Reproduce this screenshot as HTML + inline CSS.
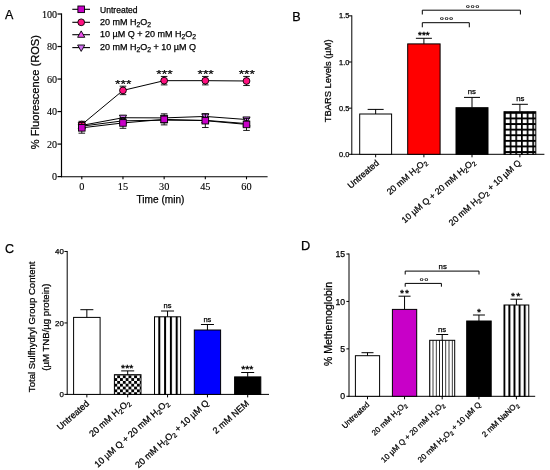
<!DOCTYPE html>
<html><head><meta charset="utf-8"><title>Figure</title>
<style>html,body{margin:0;padding:0;background:#fff}svg{display:block}text{fill:#000;stroke:#000;stroke-width:0.25px}</style>
</head><body>
<svg width="550" height="470" viewBox="0 0 550 470">
<defs>
<pattern id="grid" x="504.05" y="111.9" width="5.66" height="5.6" patternUnits="userSpaceOnUse"><rect width="5.66" height="5.6" fill="#fff"/><rect width="5.66" height="1.9" fill="#000"/><rect width="1.7" height="5.6" fill="#000"/></pattern>
<pattern id="chk" x="111.56" y="369.66" width="5.64" height="5.64" patternUnits="userSpaceOnUse"><rect width="5.64" height="5.64" fill="#fff"/><rect width="2.9" height="2.9" fill="#000"/><rect x="2.82" y="2.82" width="2.9" height="2.9" fill="#000"/></pattern>
<pattern id="vs" x="152.5" y="0" width="5.8" height="10" patternUnits="userSpaceOnUse"><rect width="5.8" height="10" fill="#fff"/><rect width="2.0" height="10" fill="#000"/></pattern>
<pattern id="fine" x="429.4" y="0" width="3.2" height="10" patternUnits="userSpaceOnUse"><rect width="3.2" height="10" fill="#fff"/><rect width="0.8" height="10" fill="#000"/></pattern>
<pattern id="bold" x="503.3" y="0" width="5.1" height="10" patternUnits="userSpaceOnUse"><rect width="5.1" height="10" fill="#fff"/><rect width="2" height="10" fill="#000"/></pattern>
</defs>
<rect width="550" height="470" fill="#fff"/>

<text x="5.00" y="19.40" font-size="12.5" text-anchor="start" font-family="Liberation Sans, Arial, sans-serif" >A</text>
<line x1="61.50" y1="13.40" x2="61.50" y2="177.20" stroke="#000" stroke-width="1.2" />
<line x1="60.90" y1="176.70" x2="267.60" y2="176.70" stroke="#000" stroke-width="1.1" />
<line x1="57.50" y1="176.60" x2="61.50" y2="176.60" stroke="#000" stroke-width="1.2" />
<text x="57.10" y="180.20" font-size="10.1" text-anchor="end" font-family="Liberation Serif, Times New Roman, serif" style="stroke-width:0.12px" >0</text>
<line x1="57.50" y1="144.08" x2="61.50" y2="144.08" stroke="#000" stroke-width="1.2" />
<text x="57.10" y="147.68" font-size="10.1" text-anchor="end" font-family="Liberation Serif, Times New Roman, serif" style="stroke-width:0.12px" >20</text>
<line x1="57.50" y1="111.56" x2="61.50" y2="111.56" stroke="#000" stroke-width="1.2" />
<text x="57.10" y="115.16" font-size="10.1" text-anchor="end" font-family="Liberation Serif, Times New Roman, serif" style="stroke-width:0.12px" >40</text>
<line x1="57.50" y1="79.04" x2="61.50" y2="79.04" stroke="#000" stroke-width="1.2" />
<text x="57.10" y="82.64" font-size="10.1" text-anchor="end" font-family="Liberation Serif, Times New Roman, serif" style="stroke-width:0.12px" >60</text>
<line x1="57.50" y1="46.52" x2="61.50" y2="46.52" stroke="#000" stroke-width="1.2" />
<text x="57.10" y="50.12" font-size="10.1" text-anchor="end" font-family="Liberation Serif, Times New Roman, serif" style="stroke-width:0.12px" >80</text>
<line x1="57.50" y1="14.00" x2="61.50" y2="14.00" stroke="#000" stroke-width="1.2" />
<text x="57.10" y="17.60" font-size="10.1" text-anchor="end" font-family="Liberation Serif, Times New Roman, serif" style="stroke-width:0.12px" >100</text>
<line x1="81.80" y1="176.60" x2="81.80" y2="179.30" stroke="#000" stroke-width="1.1" />
<text x="81.80" y="189.50" font-size="10.3" text-anchor="middle" font-family="Liberation Serif, Times New Roman, serif" style="stroke-width:0.12px" >0</text>
<line x1="122.97" y1="176.60" x2="122.97" y2="179.30" stroke="#000" stroke-width="1.1" />
<text x="122.97" y="189.50" font-size="10.3" text-anchor="middle" font-family="Liberation Serif, Times New Roman, serif" style="stroke-width:0.12px" >15</text>
<line x1="164.15" y1="176.60" x2="164.15" y2="179.30" stroke="#000" stroke-width="1.1" />
<text x="164.15" y="189.50" font-size="10.3" text-anchor="middle" font-family="Liberation Serif, Times New Roman, serif" style="stroke-width:0.12px" >30</text>
<line x1="205.32" y1="176.60" x2="205.32" y2="179.30" stroke="#000" stroke-width="1.1" />
<text x="205.32" y="189.50" font-size="10.3" text-anchor="middle" font-family="Liberation Serif, Times New Roman, serif" style="stroke-width:0.12px" >45</text>
<line x1="246.50" y1="176.60" x2="246.50" y2="179.30" stroke="#000" stroke-width="1.1" />
<text x="246.50" y="189.50" font-size="10.3" text-anchor="middle" font-family="Liberation Serif, Times New Roman, serif" style="stroke-width:0.12px" >60</text>
<text x="160.50" y="203.10" font-size="10.1" text-anchor="middle" font-family="Liberation Sans, Arial, sans-serif" >Time (min)</text>
<text transform="translate(39.20,92.10) rotate(-90)" font-size="11.1" text-anchor="middle" font-family="Liberation Sans, Arial, sans-serif" >% Fluorescence (ROS)</text>
<polyline points="81.80,125.38 122.97,117.74 164.15,117.90 205.32,116.44 246.50,119.53" fill="none" stroke="#000" stroke-width="1.0"/>
<line x1="81.80" y1="123.43" x2="81.80" y2="127.33" stroke="#000" stroke-width="0.9" />
<line x1="78.50" y1="123.43" x2="85.10" y2="123.43" stroke="#000" stroke-width="0.9" />
<line x1="78.50" y1="127.33" x2="85.10" y2="127.33" stroke="#000" stroke-width="0.9" />
<line x1="122.97" y1="115.79" x2="122.97" y2="119.69" stroke="#000" stroke-width="0.9" />
<line x1="119.67" y1="115.79" x2="126.27" y2="115.79" stroke="#000" stroke-width="0.9" />
<line x1="119.67" y1="119.69" x2="126.27" y2="119.69" stroke="#000" stroke-width="0.9" />
<line x1="164.15" y1="115.95" x2="164.15" y2="119.85" stroke="#000" stroke-width="0.9" />
<line x1="160.85" y1="115.95" x2="167.45" y2="115.95" stroke="#000" stroke-width="0.9" />
<line x1="160.85" y1="119.85" x2="167.45" y2="119.85" stroke="#000" stroke-width="0.9" />
<line x1="205.32" y1="114.49" x2="205.32" y2="118.39" stroke="#000" stroke-width="0.9" />
<line x1="202.02" y1="114.49" x2="208.62" y2="114.49" stroke="#000" stroke-width="0.9" />
<line x1="202.02" y1="118.39" x2="208.62" y2="118.39" stroke="#000" stroke-width="0.9" />
<line x1="246.50" y1="117.58" x2="246.50" y2="121.48" stroke="#000" stroke-width="0.9" />
<line x1="243.20" y1="117.58" x2="249.80" y2="117.58" stroke="#000" stroke-width="0.9" />
<line x1="243.20" y1="121.48" x2="249.80" y2="121.48" stroke="#000" stroke-width="0.9" />
<polygon points="81.80,129.18 85.40,122.78 78.20,122.78" fill="#d070f0" stroke="#000" stroke-width="0.9"/>
<polygon points="122.97,121.54 126.57,115.14 119.38,115.14" fill="#d070f0" stroke="#000" stroke-width="0.9"/>
<polygon points="164.15,121.70 167.75,115.30 160.55,115.30" fill="#d070f0" stroke="#000" stroke-width="0.9"/>
<polygon points="205.32,120.24 208.92,113.84 201.72,113.84" fill="#d070f0" stroke="#000" stroke-width="0.9"/>
<polygon points="246.50,123.33 250.10,116.93 242.90,116.93" fill="#d070f0" stroke="#000" stroke-width="0.9"/>
<polyline points="81.80,126.19 122.97,120.83 164.15,120.18 205.32,120.34 246.50,123.59" fill="none" stroke="#000" stroke-width="1.0"/>
<line x1="81.80" y1="123.75" x2="81.80" y2="128.63" stroke="#000" stroke-width="0.9" />
<line x1="78.50" y1="123.75" x2="85.10" y2="123.75" stroke="#000" stroke-width="0.9" />
<line x1="78.50" y1="128.63" x2="85.10" y2="128.63" stroke="#000" stroke-width="0.9" />
<line x1="122.97" y1="118.39" x2="122.97" y2="123.27" stroke="#000" stroke-width="0.9" />
<line x1="119.67" y1="118.39" x2="126.27" y2="118.39" stroke="#000" stroke-width="0.9" />
<line x1="119.67" y1="123.27" x2="126.27" y2="123.27" stroke="#000" stroke-width="0.9" />
<line x1="164.15" y1="117.74" x2="164.15" y2="122.62" stroke="#000" stroke-width="0.9" />
<line x1="160.85" y1="117.74" x2="167.45" y2="117.74" stroke="#000" stroke-width="0.9" />
<line x1="160.85" y1="122.62" x2="167.45" y2="122.62" stroke="#000" stroke-width="0.9" />
<line x1="205.32" y1="117.90" x2="205.32" y2="122.78" stroke="#000" stroke-width="0.9" />
<line x1="202.02" y1="117.90" x2="208.62" y2="117.90" stroke="#000" stroke-width="0.9" />
<line x1="202.02" y1="122.78" x2="208.62" y2="122.78" stroke="#000" stroke-width="0.9" />
<line x1="246.50" y1="121.15" x2="246.50" y2="126.03" stroke="#000" stroke-width="0.9" />
<line x1="243.20" y1="121.15" x2="249.80" y2="121.15" stroke="#000" stroke-width="0.9" />
<line x1="243.20" y1="126.03" x2="249.80" y2="126.03" stroke="#000" stroke-width="0.9" />
<polygon points="81.80,122.39 85.40,128.79 78.20,128.79" fill="#f050f0" stroke="#000" stroke-width="0.9"/>
<polygon points="122.97,117.03 126.57,123.43 119.38,123.43" fill="#f050f0" stroke="#000" stroke-width="0.9"/>
<polygon points="164.15,116.38 167.75,122.78 160.55,122.78" fill="#f050f0" stroke="#000" stroke-width="0.9"/>
<polygon points="205.32,116.54 208.92,122.94 201.72,122.94" fill="#f050f0" stroke="#000" stroke-width="0.9"/>
<polygon points="246.50,119.79 250.10,126.19 242.90,126.19" fill="#f050f0" stroke="#000" stroke-width="0.9"/>
<polyline points="81.80,124.57 122.97,90.42 164.15,80.67 205.32,80.67 246.50,80.99" fill="none" stroke="#000" stroke-width="1.0"/>
<line x1="81.80" y1="121.32" x2="81.80" y2="127.82" stroke="#000" stroke-width="0.9" />
<line x1="78.50" y1="121.32" x2="85.10" y2="121.32" stroke="#000" stroke-width="0.9" />
<line x1="78.50" y1="127.82" x2="85.10" y2="127.82" stroke="#000" stroke-width="0.9" />
<line x1="122.97" y1="86.19" x2="122.97" y2="94.65" stroke="#000" stroke-width="0.9" />
<line x1="119.67" y1="86.19" x2="126.27" y2="86.19" stroke="#000" stroke-width="0.9" />
<line x1="119.67" y1="94.65" x2="126.27" y2="94.65" stroke="#000" stroke-width="0.9" />
<line x1="164.15" y1="76.44" x2="164.15" y2="84.89" stroke="#000" stroke-width="0.9" />
<line x1="160.85" y1="76.44" x2="167.45" y2="76.44" stroke="#000" stroke-width="0.9" />
<line x1="160.85" y1="84.89" x2="167.45" y2="84.89" stroke="#000" stroke-width="0.9" />
<line x1="205.32" y1="76.44" x2="205.32" y2="84.89" stroke="#000" stroke-width="0.9" />
<line x1="202.02" y1="76.44" x2="208.62" y2="76.44" stroke="#000" stroke-width="0.9" />
<line x1="202.02" y1="84.89" x2="208.62" y2="84.89" stroke="#000" stroke-width="0.9" />
<line x1="246.50" y1="76.44" x2="246.50" y2="85.54" stroke="#000" stroke-width="0.9" />
<line x1="243.20" y1="76.44" x2="249.80" y2="76.44" stroke="#000" stroke-width="0.9" />
<line x1="243.20" y1="85.54" x2="249.80" y2="85.54" stroke="#000" stroke-width="0.9" />
<circle cx="81.80" cy="124.57" r="3.4" fill="#ff1080" stroke="#000" stroke-width="0.9"/>
<circle cx="122.97" cy="90.42" r="3.4" fill="#ff1080" stroke="#000" stroke-width="0.9"/>
<circle cx="164.15" cy="80.67" r="3.4" fill="#ff1080" stroke="#000" stroke-width="0.9"/>
<circle cx="205.32" cy="80.67" r="3.4" fill="#ff1080" stroke="#000" stroke-width="0.9"/>
<circle cx="246.50" cy="80.99" r="3.4" fill="#ff1080" stroke="#000" stroke-width="0.9"/>
<polyline points="81.80,127.82 122.97,122.94 164.15,119.36 205.32,120.67 246.50,124.41" fill="none" stroke="#000" stroke-width="1.0"/>
<line x1="81.80" y1="122.45" x2="81.80" y2="133.19" stroke="#000" stroke-width="0.9" />
<line x1="78.50" y1="122.45" x2="85.10" y2="122.45" stroke="#000" stroke-width="0.9" />
<line x1="78.50" y1="133.19" x2="85.10" y2="133.19" stroke="#000" stroke-width="0.9" />
<line x1="122.97" y1="117.58" x2="122.97" y2="128.31" stroke="#000" stroke-width="0.9" />
<line x1="119.67" y1="117.58" x2="126.27" y2="117.58" stroke="#000" stroke-width="0.9" />
<line x1="119.67" y1="128.31" x2="126.27" y2="128.31" stroke="#000" stroke-width="0.9" />
<line x1="164.15" y1="113.84" x2="164.15" y2="124.89" stroke="#000" stroke-width="0.9" />
<line x1="160.85" y1="113.84" x2="167.45" y2="113.84" stroke="#000" stroke-width="0.9" />
<line x1="160.85" y1="124.89" x2="167.45" y2="124.89" stroke="#000" stroke-width="0.9" />
<line x1="205.32" y1="113.84" x2="205.32" y2="127.49" stroke="#000" stroke-width="0.9" />
<line x1="202.02" y1="113.84" x2="208.62" y2="113.84" stroke="#000" stroke-width="0.9" />
<line x1="202.02" y1="127.49" x2="208.62" y2="127.49" stroke="#000" stroke-width="0.9" />
<line x1="246.50" y1="118.39" x2="246.50" y2="130.42" stroke="#000" stroke-width="0.9" />
<line x1="243.20" y1="118.39" x2="249.80" y2="118.39" stroke="#000" stroke-width="0.9" />
<line x1="243.20" y1="130.42" x2="249.80" y2="130.42" stroke="#000" stroke-width="0.9" />
<rect x="78.50" y="124.52" width="6.6" height="6.6" fill="#c800c8" stroke="#000" stroke-width="0.9"/>
<rect x="119.67" y="119.64" width="6.6" height="6.6" fill="#c800c8" stroke="#000" stroke-width="0.9"/>
<rect x="160.85" y="116.06" width="6.6" height="6.6" fill="#c800c8" stroke="#000" stroke-width="0.9"/>
<rect x="202.02" y="117.37" width="6.6" height="6.6" fill="#c800c8" stroke="#000" stroke-width="0.9"/>
<rect x="243.20" y="121.11" width="6.6" height="6.6" fill="#c800c8" stroke="#000" stroke-width="0.9"/>
<text transform="translate(123.27,87.67) scale(1,0.8)" font-size="14" text-anchor="middle" font-family="Liberation Sans, Arial, sans-serif" style="stroke-width:0.25px;letter-spacing:0px">***</text>
<text transform="translate(164.45,78.37) scale(1,0.8)" font-size="14" text-anchor="middle" font-family="Liberation Sans, Arial, sans-serif" style="stroke-width:0.25px;letter-spacing:0px">***</text>
<text transform="translate(205.62,78.37) scale(1,0.8)" font-size="14" text-anchor="middle" font-family="Liberation Sans, Arial, sans-serif" style="stroke-width:0.25px;letter-spacing:0px">***</text>
<text transform="translate(246.80,78.37) scale(1,0.8)" font-size="14" text-anchor="middle" font-family="Liberation Sans, Arial, sans-serif" style="stroke-width:0.25px;letter-spacing:0px">***</text>
<line x1="72.30" y1="9.30" x2="90.00" y2="9.30" stroke="#000" stroke-width="1.1" />
<rect x="77.90" y="6.00" width="6.6" height="6.6" fill="#c800c8" stroke="#000" stroke-width="0.9"/>
<text x="100.00" y="13.00" font-size="9" text-anchor="start" font-family="Liberation Sans, Arial, sans-serif" textLength="37.5" lengthAdjust="spacingAndGlyphs">Untreated</text>
<line x1="72.30" y1="22.30" x2="90.00" y2="22.30" stroke="#000" stroke-width="1.1" />
<circle cx="81.20" cy="22.30" r="3.4" fill="#ff1080" stroke="#000" stroke-width="0.9"/>
<text x="100.00" y="24.50" font-size="9" text-anchor="start" font-family="Liberation Sans, Arial, sans-serif" >20 mM H<tspan baseline-shift="-25%" font-size="75%">2</tspan>O<tspan baseline-shift="-25%" font-size="75%">2</tspan></text>
<line x1="72.30" y1="34.70" x2="90.00" y2="34.70" stroke="#000" stroke-width="1.1" />
<polygon points="81.20,30.90 84.80,37.30 77.60,37.30" fill="#f050f0" stroke="#000" stroke-width="0.9"/>
<text x="100.00" y="37.10" font-size="9" text-anchor="start" font-family="Liberation Sans, Arial, sans-serif" >10 µM Q + 20 mM H<tspan baseline-shift="-25%" font-size="75%">2</tspan>O<tspan baseline-shift="-25%" font-size="75%">2</tspan></text>
<line x1="72.30" y1="47.60" x2="90.00" y2="47.60" stroke="#000" stroke-width="1.1" />
<polygon points="81.20,51.40 84.80,45.00 77.60,45.00" fill="#d070f0" stroke="#000" stroke-width="0.9"/>
<text x="100.00" y="49.80" font-size="9" text-anchor="start" font-family="Liberation Sans, Arial, sans-serif" >20 mM H<tspan baseline-shift="-25%" font-size="75%">2</tspan>O<tspan baseline-shift="-25%" font-size="75%">2</tspan> + 10 µM Q</text>
<text x="292.30" y="20.90" font-size="12.6" text-anchor="start" font-family="Liberation Sans, Arial, sans-serif" >B</text>
<line x1="351.80" y1="15.35" x2="351.80" y2="154.80" stroke="#000" stroke-width="1" />
<line x1="351.30" y1="154.30" x2="544.40" y2="154.30" stroke="#000" stroke-width="1" />
<line x1="349.00" y1="154.30" x2="351.80" y2="154.30" stroke="#000" stroke-width="1" />
<text x="349.30" y="156.80" font-size="7.4" text-anchor="end" font-family="Liberation Sans, Arial, sans-serif" >0.0</text>
<line x1="349.00" y1="108.15" x2="351.80" y2="108.15" stroke="#000" stroke-width="1" />
<text x="349.30" y="110.65" font-size="7.4" text-anchor="end" font-family="Liberation Sans, Arial, sans-serif" >0.5</text>
<line x1="349.00" y1="62.00" x2="351.80" y2="62.00" stroke="#000" stroke-width="1" />
<text x="349.30" y="64.50" font-size="7.4" text-anchor="end" font-family="Liberation Sans, Arial, sans-serif" >1.0</text>
<line x1="349.00" y1="15.85" x2="351.80" y2="15.85" stroke="#000" stroke-width="1" />
<text x="349.30" y="18.35" font-size="7.4" text-anchor="end" font-family="Liberation Sans, Arial, sans-serif" >1.5</text>
<text transform="translate(330.50,80.80) rotate(-90)" font-size="9.35" text-anchor="middle" font-family="Liberation Sans, Arial, sans-serif" >TBARS Levels (µM)</text>
<rect x="359.70" y="114.00" width="31.90" height="40.30" fill="#fff" stroke="#000" stroke-width="1"/>
<line x1="375.65" y1="109.40" x2="375.65" y2="114.00" stroke="#000" stroke-width="1" />
<line x1="367.65" y1="109.40" x2="383.65" y2="109.40" stroke="#000" stroke-width="1" />
<line x1="375.65" y1="154.30" x2="375.65" y2="157.30" stroke="#000" stroke-width="1" />
<rect x="407.70" y="43.90" width="32.40" height="110.40" fill="#f00" stroke="#000" stroke-width="1"/>
<line x1="423.90" y1="38.30" x2="423.90" y2="43.90" stroke="#000" stroke-width="1" />
<line x1="415.90" y1="38.30" x2="431.90" y2="38.30" stroke="#000" stroke-width="1" />
<line x1="423.90" y1="154.30" x2="423.90" y2="157.30" stroke="#000" stroke-width="1" />
<rect x="456.00" y="107.70" width="32.00" height="46.60" fill="#000" stroke="#000" stroke-width="1"/>
<line x1="472.00" y1="97.40" x2="472.00" y2="107.70" stroke="#000" stroke-width="1" />
<line x1="464.00" y1="97.40" x2="480.00" y2="97.40" stroke="#000" stroke-width="1" />
<line x1="472.00" y1="154.30" x2="472.00" y2="157.30" stroke="#000" stroke-width="1" />
<rect x="504.00" y="111.70" width="31.80" height="42.60" fill="url(#grid)" stroke="#000" stroke-width="1"/>
<line x1="519.90" y1="104.30" x2="519.90" y2="111.70" stroke="#000" stroke-width="1" />
<line x1="511.90" y1="104.30" x2="527.90" y2="104.30" stroke="#000" stroke-width="1" />
<line x1="519.90" y1="154.30" x2="519.90" y2="157.30" stroke="#000" stroke-width="1" />
<text transform="translate(379.65,163.80) rotate(-41)" font-size="8.75" text-anchor="end" font-family="Liberation Sans, Arial, sans-serif" >Untreated</text>
<text transform="translate(427.40,162.80) rotate(-41)" font-size="8.75" text-anchor="end" font-family="Liberation Sans, Arial, sans-serif" >20 mM H<tspan baseline-shift="-25%" font-size="75%">2</tspan>O<tspan baseline-shift="-25%" font-size="75%">2</tspan></text>
<text transform="translate(475.70,162.80) rotate(-40.5)" font-size="8.75" text-anchor="end" font-family="Liberation Sans, Arial, sans-serif" >10 µM Q + 20 mM H<tspan baseline-shift="-25%" font-size="75%">2</tspan>O<tspan baseline-shift="-25%" font-size="75%">2</tspan></text>
<text transform="translate(521.50,163.80) rotate(-41.9)" font-size="8.75" text-anchor="end" font-family="Liberation Sans, Arial, sans-serif" >20 mM H<tspan baseline-shift="-25%" font-size="75%">2</tspan>O<tspan baseline-shift="-25%" font-size="75%">2</tspan> + 10 µM Q</text>
<polyline points="422.30,14.50 422.30,10.20 520.40,10.20 520.40,14.50" fill="none" stroke="#000" stroke-width="1"/>
<polyline points="422.30,27.30 422.30,22.70 469.30,22.70 469.30,27.30" fill="none" stroke="#000" stroke-width="1"/>
<text transform="translate(472.60,11.70) scale(1,0.82)" font-size="11.8" text-anchor="middle" font-family="Liberation Sans, Arial, sans-serif">°°°</text>
<text transform="translate(446.50,24.10) scale(1,0.82)" font-size="11.8" text-anchor="middle" font-family="Liberation Sans, Arial, sans-serif">°°°</text>
<text x="423.80" y="38.30" font-size="9.8" text-anchor="middle" font-family="Liberation Sans, Arial, sans-serif" style="stroke-width:0.4px">***</text>
<text x="471.80" y="93.70" font-size="7.8" text-anchor="middle" font-family="Liberation Sans, Arial, sans-serif" >ns</text>
<text x="520.40" y="100.60" font-size="7.8" text-anchor="middle" font-family="Liberation Sans, Arial, sans-serif" >ns</text>
<text x="5.00" y="253.30" font-size="12.5" text-anchor="start" font-family="Liberation Sans, Arial, sans-serif" >C</text>
<line x1="67.20" y1="250.98" x2="67.20" y2="394.90" stroke="#000" stroke-width="1" />
<line x1="66.70" y1="394.40" x2="269.00" y2="394.40" stroke="#000" stroke-width="1" />
<line x1="64.40" y1="394.40" x2="67.20" y2="394.40" stroke="#000" stroke-width="1" />
<text x="63.90" y="397.40" font-size="7.9" text-anchor="end" font-family="Liberation Sans, Arial, sans-serif" >0</text>
<line x1="64.40" y1="322.94" x2="67.20" y2="322.94" stroke="#000" stroke-width="1" />
<text x="63.90" y="325.94" font-size="7.9" text-anchor="end" font-family="Liberation Sans, Arial, sans-serif" >20</text>
<line x1="64.40" y1="251.48" x2="67.20" y2="251.48" stroke="#000" stroke-width="1" />
<text x="63.90" y="254.48" font-size="7.9" text-anchor="end" font-family="Liberation Sans, Arial, sans-serif" >40</text>
<text transform="translate(35.10,326.80) rotate(-90)" font-size="9.6" text-anchor="middle" font-family="Liberation Sans, Arial, sans-serif" >Total Sulfhydryl Group Content</text>
<text transform="translate(49.00,327.20) rotate(-90)" font-size="9.6" text-anchor="middle" font-family="Liberation Sans, Arial, sans-serif" >(µM TNB/µg protein)</text>
<rect x="73.60" y="317.40" width="26.50" height="77.00" fill="#fff" stroke="#000" stroke-width="1"/>
<line x1="86.85" y1="309.70" x2="86.85" y2="317.40" stroke="#000" stroke-width="1" />
<line x1="80.35" y1="309.70" x2="93.35" y2="309.70" stroke="#000" stroke-width="1" />
<line x1="86.85" y1="394.40" x2="86.85" y2="397.40" stroke="#000" stroke-width="1" />
<rect x="114.40" y="374.70" width="26.60" height="19.70" fill="url(#chk)" stroke="#000" stroke-width="1"/>
<line x1="127.70" y1="370.90" x2="127.70" y2="374.70" stroke="#000" stroke-width="1" />
<line x1="121.20" y1="370.90" x2="134.20" y2="370.90" stroke="#000" stroke-width="1" />
<line x1="127.70" y1="394.40" x2="127.70" y2="397.40" stroke="#000" stroke-width="1" />
<rect x="154.50" y="316.80" width="26.10" height="77.60" fill="url(#vs)" stroke="#000" stroke-width="1"/>
<line x1="167.55" y1="311.00" x2="167.55" y2="316.80" stroke="#000" stroke-width="1" />
<line x1="161.05" y1="311.00" x2="174.05" y2="311.00" stroke="#000" stroke-width="1" />
<line x1="167.55" y1="394.40" x2="167.55" y2="397.40" stroke="#000" stroke-width="1" />
<rect x="194.30" y="330.00" width="26.30" height="64.40" fill="#00f" stroke="#000" stroke-width="1"/>
<line x1="207.45" y1="324.50" x2="207.45" y2="330.00" stroke="#000" stroke-width="1" />
<line x1="200.95" y1="324.50" x2="213.95" y2="324.50" stroke="#000" stroke-width="1" />
<line x1="207.45" y1="394.40" x2="207.45" y2="397.40" stroke="#000" stroke-width="1" />
<rect x="234.60" y="376.90" width="26.20" height="17.50" fill="#000" stroke="#000" stroke-width="1"/>
<line x1="247.70" y1="372.50" x2="247.70" y2="376.90" stroke="#000" stroke-width="1" />
<line x1="241.20" y1="372.50" x2="254.20" y2="372.50" stroke="#000" stroke-width="1" />
<line x1="247.70" y1="394.40" x2="247.70" y2="397.40" stroke="#000" stroke-width="1" />
<text transform="translate(89.85,404.40) rotate(-41.5)" font-size="9.0" text-anchor="end" font-family="Liberation Sans, Arial, sans-serif" >Untreated</text>
<text transform="translate(130.70,403.40) rotate(-41.5)" font-size="9.0" text-anchor="end" font-family="Liberation Sans, Arial, sans-serif" >20 mM H<tspan baseline-shift="-25%" font-size="75%">2</tspan>O<tspan baseline-shift="-25%" font-size="75%">2</tspan></text>
<text transform="translate(169.35,403.90) rotate(-41.8)" font-size="9.0" text-anchor="end" font-family="Liberation Sans, Arial, sans-serif" >10 µM Q + 20 mM H<tspan baseline-shift="-25%" font-size="75%">2</tspan>O<tspan baseline-shift="-25%" font-size="75%">2</tspan></text>
<text transform="translate(209.45,403.90) rotate(-42.3)" font-size="9.0" text-anchor="end" font-family="Liberation Sans, Arial, sans-serif" >20 mM H<tspan baseline-shift="-25%" font-size="75%">2</tspan>O<tspan baseline-shift="-25%" font-size="75%">2</tspan> + 10 µM Q</text>
<text transform="translate(249.70,404.40) rotate(-41.5)" font-size="9.0" text-anchor="end" font-family="Liberation Sans, Arial, sans-serif" >2 mM NEM</text>
<text transform="translate(127.20,371.18) scale(1,0.8)" font-size="10.5" text-anchor="middle" font-family="Liberation Sans, Arial, sans-serif" style="stroke-width:0.4px;letter-spacing:0px">***</text>
<text x="167.50" y="308.20" font-size="7.5" text-anchor="middle" font-family="Liberation Sans, Arial, sans-serif" >ns</text>
<text x="207.40" y="321.70" font-size="7.5" text-anchor="middle" font-family="Liberation Sans, Arial, sans-serif" >ns</text>
<text transform="translate(247.30,372.48) scale(1,0.8)" font-size="10.5" text-anchor="middle" font-family="Liberation Sans, Arial, sans-serif" style="stroke-width:0.4px;letter-spacing:0px">***</text>
<text x="301.00" y="249.80" font-size="12.8" text-anchor="start" font-family="Liberation Sans, Arial, sans-serif" >D</text>
<line x1="349.00" y1="253.50" x2="349.00" y2="396.80" stroke="#000" stroke-width="1" />
<line x1="348.50" y1="396.30" x2="535.20" y2="396.30" stroke="#000" stroke-width="1" />
<line x1="346.40" y1="396.30" x2="349.00" y2="396.30" stroke="#000" stroke-width="1" />
<text x="345.10" y="399.40" font-size="8.7" text-anchor="end" font-family="Liberation Sans, Arial, sans-serif" >0</text>
<line x1="346.40" y1="348.87" x2="349.00" y2="348.87" stroke="#000" stroke-width="1" />
<text x="345.10" y="351.97" font-size="8.7" text-anchor="end" font-family="Liberation Sans, Arial, sans-serif" >5</text>
<line x1="346.40" y1="301.43" x2="349.00" y2="301.43" stroke="#000" stroke-width="1" />
<text x="345.10" y="304.53" font-size="8.7" text-anchor="end" font-family="Liberation Sans, Arial, sans-serif" >10</text>
<line x1="346.40" y1="254.00" x2="349.00" y2="254.00" stroke="#000" stroke-width="1" />
<text x="345.10" y="257.10" font-size="8.7" text-anchor="end" font-family="Liberation Sans, Arial, sans-serif" >15</text>
<text transform="translate(332.00,324.00) rotate(-90)" font-size="10.5" text-anchor="middle" font-family="Liberation Sans, Arial, sans-serif" >% Methemoglobin</text>
<rect x="355.40" y="355.70" width="24.20" height="40.60" fill="#fff" stroke="#000" stroke-width="1"/>
<line x1="367.50" y1="352.70" x2="367.50" y2="355.70" stroke="#000" stroke-width="1" />
<line x1="361.50" y1="352.70" x2="373.50" y2="352.70" stroke="#000" stroke-width="1" />
<line x1="367.50" y1="396.30" x2="367.50" y2="399.30" stroke="#000" stroke-width="1" />
<rect x="392.40" y="309.40" width="24.30" height="86.90" fill="#c800c8" stroke="#000" stroke-width="1"/>
<line x1="404.55" y1="296.20" x2="404.55" y2="309.40" stroke="#000" stroke-width="1" />
<line x1="398.55" y1="296.20" x2="410.55" y2="296.20" stroke="#000" stroke-width="1" />
<line x1="404.55" y1="396.30" x2="404.55" y2="399.30" stroke="#000" stroke-width="1" />
<rect x="429.70" y="340.30" width="25.00" height="56.00" fill="url(#fine)" stroke="#000" stroke-width="1"/>
<line x1="442.20" y1="334.50" x2="442.20" y2="340.30" stroke="#000" stroke-width="1" />
<line x1="436.20" y1="334.50" x2="448.20" y2="334.50" stroke="#000" stroke-width="1" />
<line x1="442.20" y1="396.30" x2="442.20" y2="399.30" stroke="#000" stroke-width="1" />
<rect x="466.70" y="321.00" width="24.50" height="75.30" fill="#000" stroke="#000" stroke-width="1"/>
<line x1="478.95" y1="315.00" x2="478.95" y2="321.00" stroke="#000" stroke-width="1" />
<line x1="472.95" y1="315.00" x2="484.95" y2="315.00" stroke="#000" stroke-width="1" />
<line x1="478.95" y1="396.30" x2="478.95" y2="399.30" stroke="#000" stroke-width="1" />
<rect x="504.00" y="305.00" width="24.80" height="91.30" fill="url(#bold)" stroke="#000" stroke-width="1"/>
<line x1="516.40" y1="299.20" x2="516.40" y2="305.00" stroke="#000" stroke-width="1" />
<line x1="510.40" y1="299.20" x2="522.40" y2="299.20" stroke="#000" stroke-width="1" />
<line x1="516.40" y1="396.30" x2="516.40" y2="399.30" stroke="#000" stroke-width="1" />
<text transform="translate(370.00,405.30) rotate(-43.5)" font-size="7.85" text-anchor="end" font-family="Liberation Sans, Arial, sans-serif" >Untreated</text>
<text transform="translate(407.05,405.30) rotate(-43.5)" font-size="7.85" text-anchor="end" font-family="Liberation Sans, Arial, sans-serif" >20 mM H<tspan baseline-shift="-25%" font-size="75%">2</tspan>O<tspan baseline-shift="-25%" font-size="75%">2</tspan></text>
<text transform="translate(444.70,405.30) rotate(-43.5)" font-size="7.85" text-anchor="end" font-family="Liberation Sans, Arial, sans-serif" >10 µM Q + 20 mM H<tspan baseline-shift="-25%" font-size="75%">2</tspan>O<tspan baseline-shift="-25%" font-size="75%">2</tspan></text>
<text transform="translate(481.45,405.30) rotate(-43.5)" font-size="7.85" text-anchor="end" font-family="Liberation Sans, Arial, sans-serif" >20 mM H<tspan baseline-shift="-25%" font-size="75%">2</tspan>O<tspan baseline-shift="-25%" font-size="75%">2</tspan> + 10 µM Q</text>
<text transform="translate(518.90,405.30) rotate(-43.5)" font-size="7.85" text-anchor="end" font-family="Liberation Sans, Arial, sans-serif" >2 mM NaNO<tspan baseline-shift="-25%" font-size="75%">2</tspan></text>
<polyline points="405.20,274.50 405.20,271.10 479.00,271.10 479.00,274.50" fill="none" stroke="#000" stroke-width="1"/>
<polyline points="405.20,286.70 405.20,283.40 441.40,283.40 441.40,286.70" fill="none" stroke="#000" stroke-width="1"/>
<text x="442.70" y="268.70" font-size="7.8" text-anchor="middle" font-family="Liberation Sans, Arial, sans-serif" >ns</text>
<text transform="translate(424.00,285.20) scale(1,0.82)" font-size="11.8" text-anchor="middle" font-family="Liberation Sans, Arial, sans-serif">°°</text>
<text transform="translate(405.10,296.18) scale(1,0.8)" font-size="10.5" text-anchor="middle" font-family="Liberation Sans, Arial, sans-serif" style="stroke-width:0.4px;letter-spacing:1.0px">**</text>
<text x="442.00" y="332.20" font-size="7.8" text-anchor="middle" font-family="Liberation Sans, Arial, sans-serif" >ns</text>
<text transform="translate(479.00,315.08) scale(1,0.8)" font-size="10.5" text-anchor="middle" font-family="Liberation Sans, Arial, sans-serif" style="stroke-width:0.4px;letter-spacing:0px">*</text>
<text transform="translate(516.20,298.68) scale(1,0.8)" font-size="10.5" text-anchor="middle" font-family="Liberation Sans, Arial, sans-serif" style="stroke-width:0.4px;letter-spacing:1.0px">**</text>
</svg>
</body></html>
